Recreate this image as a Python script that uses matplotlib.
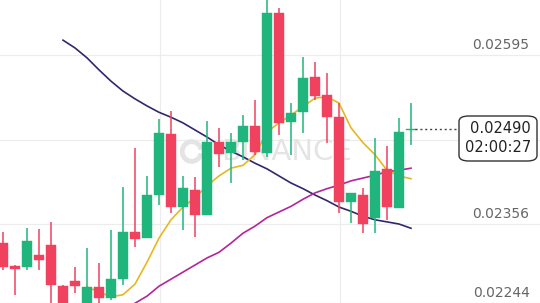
import matplotlib
matplotlib.use("Agg")
import matplotlib.pyplot as plt
from matplotlib.patches import FancyBboxPatch, Arc
import numpy as np

# ---- data ----
opens  = [0.02329, 0.02296, 0.02295, 0.02312, 0.02326, 0.02268, 0.02275, 0.02234, 0.02267, 0.02251,
          0.02278, 0.02345, 0.02336, 0.02397, 0.02483, 0.02380, 0.02404, 0.02369, 0.02472, 0.02456,
          0.02472, 0.02495, 0.02456, 0.02654, 0.02500, 0.02514, 0.02564, 0.02538, 0.02507, 0.02387,
          0.02397, 0.02365, 0.02434, 0.02379, 0.02489]
highs  = [0.02345, 0.02298, 0.02350, 0.02349, 0.02359, 0.02270, 0.02295, 0.02322, 0.02301, 0.02348,
          0.02408, 0.02463, 0.02424, 0.02505, 0.02516, 0.02424, 0.02422, 0.02502, 0.02492, 0.02485,
          0.02510, 0.02531, 0.02673, 0.02662, 0.02527, 0.02592, 0.02585, 0.02570, 0.02527, 0.02400,
          0.02407, 0.02478, 0.02466, 0.02506, 0.02527]
lows   = [0.02291, 0.02256, 0.02291, 0.02291, 0.02234, 0.02234, 0.02258, 0.02234, 0.02234, 0.02249,
          0.02270, 0.02324, 0.02336, 0.02383, 0.02372, 0.02348, 0.02338, 0.02369, 0.02437, 0.02414,
          0.02447, 0.02454, 0.02451, 0.02482, 0.02454, 0.02485, 0.02531, 0.02471, 0.02372, 0.02357,
          0.02343, 0.02343, 0.02362, 0.02379, 0.02468]
closes = [0.02295, 0.02293, 0.02332, 0.02305, 0.02270, 0.02234, 0.02268, 0.02267, 0.02251, 0.02278,
          0.02345, 0.02335, 0.02397, 0.02485, 0.02380, 0.02407, 0.02369, 0.02472, 0.02455, 0.02472,
          0.02495, 0.02458, 0.02654, 0.02499, 0.02513, 0.02563, 0.02537, 0.02507, 0.02387, 0.02400,
          0.02356, 0.02431, 0.02380, 0.02486, 0.02490]

ma_short_start = 7
ma_short = [0.02267, 0.02260, 0.02253, 0.02256, 0.02271, 0.02302, 0.02336, 0.02362, 0.02380, 0.02393,
            0.02410, 0.02424, 0.02435, 0.02439, 0.02454, 0.02486, 0.02499, 0.02510, 0.02522, 0.02534,
            0.02536, 0.02527, 0.02492, 0.02471, 0.02454, 0.02432, 0.02424, 0.02420]

ma_mid_start = 10
ma_mid = [0.02234, 0.02244, 0.02254, 0.02268, 0.02278, 0.02288, 0.02298, 0.02308, 0.02316, 0.02329,
          0.02343, 0.02353, 0.02365, 0.02373, 0.02381, 0.02391, 0.02400, 0.02406, 0.02411, 0.02417,
          0.02421, 0.02425, 0.02430, 0.02432, 0.02435]

ma_long_start = 5
ma_long = [0.02616, 0.02605, 0.02591, 0.02574, 0.02558, 0.02544, 0.02533, 0.02523, 0.02514, 0.02507,
           0.02499, 0.02489, 0.02479, 0.02468, 0.02459, 0.02451, 0.02442, 0.02434, 0.02424, 0.02414,
           0.02406, 0.02397, 0.02389, 0.02380, 0.02374, 0.02367, 0.02362, 0.02359, 0.02356, 0.02350]

price_ticks = [0.02595, 0.024755, 0.02356, 0.02244]
price_labels = ["0.02595", "", "0.02356", "0.02244"]
time_grid = [13.1, 28.1]
last_price = "0.02490"
countdown = "02:00:27"
watermark = "BINANCE"

GREEN = "#1fb57c"
RED = "#f0415f"

fig = plt.figure(figsize=(5.4, 3.03), dpi=100)
ax = fig.add_axes([0, 0, 1, 1])
ax.set_xlim(-0.25, 44.75)
ax.set_ylim(0.022443, 0.026728)
for s in ax.spines.values():
    s.set_visible(False)
ax.set_xticks([])
ax.set_yticks([])

# grid
for p in price_ticks:
    ax.axhline(p, color="#ececec", lw=0.8, zorder=0)
for t in time_grid:
    ax.axvline(t, color="#ececec", lw=0.8, zorder=0)

# watermark
ax.text(0.53, 0.50, watermark, transform=ax.transAxes, ha="center", va="center",
        fontsize=21, color="#e4e4e4", family="DejaVu Sans", zorder=0.5)
ax.add_patch(Arc((0.355, 0.50), 0.035, 0.065, transform=ax.transAxes, theta1=20, theta2=340,
                 lw=3.5, color="#e4e4e4", zorder=0.5))

# moving averages (drawn under the candles)
ax.plot(np.arange(ma_long_start, ma_long_start + len(ma_long)), ma_long, color="#33276b", lw=1.2, zorder=1.5)
ax.plot(np.arange(ma_mid_start, ma_mid_start + len(ma_mid)), ma_mid, color="#b3259a", lw=1.2, zorder=1.5)
ax.plot(np.arange(ma_short_start, ma_short_start + len(ma_short)), ma_short, color="#e6b820", lw=1.2, zorder=1.6)

# candles
x = np.arange(len(opens))
o = np.array(opens); c = np.array(closes); h = np.array(highs); l = np.array(lows)
up = c >= o
cols = np.where(up, GREEN, RED)
ax.vlines(x, l, h, colors=cols, lw=1.1, zorder=2)
bottoms = np.minimum(o, c)
heights = np.maximum(np.abs(c - o), 0.000012)
ax.bar(x, heights, bottom=bottoms, width=0.82, color=cols, edgecolor=cols, lw=0.3, zorder=3)

# price axis labels (inside the plot on the right)
for p, lab in zip(price_ticks, price_labels):
    if lab:
        ax.annotate(lab, xy=(1, p), xycoords=("axes fraction", "data"), xytext=(-7.5, 2),
                    textcoords="offset points", ha="right", va="bottom", fontsize=10,
                    color="#666666", zorder=6)

# last price marker
lp = float(last_price)
ax.plot([x[-1] + 0.3, 37.9], [lp, lp], color="#444444", lw=1.0, ls=(0, (1.5, 2)), zorder=5)
box = FancyBboxPatch((459 / 540, 1 - 161 / 303), 78 / 540, 45 / 303, transform=ax.transAxes,
                     boxstyle="round,pad=0,rounding_size=0.018", fc="white", ec="#333333", lw=1.0, zorder=6)
ax.add_patch(box)
ax.text(531 / 540, 1 - 129 / 303, last_price, transform=ax.transAxes, ha="right", va="center",
        fontsize=10.5, color="#222222", zorder=7)
ax.text(531 / 540, 1 - 148 / 303, countdown, transform=ax.transAxes, ha="right", va="center",
        fontsize=10.5, color="#222222", zorder=7)

fig.savefig("out.png", dpi=100, facecolor="white")
